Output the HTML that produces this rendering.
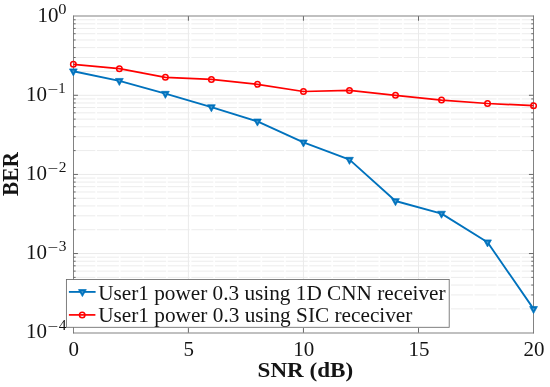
<!DOCTYPE html>
<html><head><meta charset="utf-8"><title>BER vs SNR</title>
<style>
html,body{margin:0;padding:0;background:#fff;}
body{width:550px;height:387px;overflow:hidden;}
svg{display:block;font-family:"Liberation Serif", "DejaVu Serif", serif;}
text{fill:#141414;}
</style></head>
<body>
<svg width="550" height="387" viewBox="0 0 550 387">
<rect x="0" y="0" width="550" height="387" fill="#ffffff"/>
<path d="M73.35 308.88H533.55M73.35 294.94H533.55M73.35 285.05H533.55M73.35 277.39H533.55M73.35 271.12H533.55M73.35 265.82H533.55M73.35 261.23H533.55M73.35 257.18H533.55M73.35 229.74H533.55M73.35 215.80H533.55M73.35 205.92H533.55M73.35 198.25H533.55M73.35 191.98H533.55M73.35 186.68H533.55M73.35 182.09H533.55M73.35 178.05H533.55M73.35 150.60H533.55M73.35 136.67H533.55M73.35 126.78H533.55M73.35 119.11H533.55M73.35 112.84H533.55M73.35 107.55H533.55M73.35 102.96H533.55M73.35 98.91H533.55M73.35 71.46H533.55M73.35 57.53H533.55M73.35 47.64H533.55M73.35 39.97H533.55M73.35 33.71H533.55M73.35 28.41H533.55M73.35 23.82H533.55M73.35 19.77H533.55" stroke="#ececec" stroke-width="1" fill="none" stroke-dasharray="22 1.6"/>
<path d="M73.35 253.56H533.55M73.35 174.43H533.55M73.35 95.29H533.55M188.40 16.15V332.70M303.45 16.15V332.70M418.50 16.15V332.70" stroke="#eaeaea" stroke-width="1" fill="none"/>
<path d="M188.40 332.70v-4.6M188.40 16.15v4.6M303.45 332.70v-4.6M303.45 16.15v4.6M418.50 332.70v-4.6M418.50 16.15v4.6M73.35 253.56h4.6M533.55 253.56h-4.6M73.35 174.43h4.6M533.55 174.43h-4.6M73.35 95.29h4.6M533.55 95.29h-4.6M73.35 308.88h2.3M533.55 308.88h-2.3M73.35 294.94h2.3M533.55 294.94h-2.3M73.35 285.05h2.3M533.55 285.05h-2.3M73.35 277.39h2.3M533.55 277.39h-2.3M73.35 271.12h2.3M533.55 271.12h-2.3M73.35 265.82h2.3M533.55 265.82h-2.3M73.35 261.23h2.3M533.55 261.23h-2.3M73.35 257.18h2.3M533.55 257.18h-2.3M73.35 229.74h2.3M533.55 229.74h-2.3M73.35 215.80h2.3M533.55 215.80h-2.3M73.35 205.92h2.3M533.55 205.92h-2.3M73.35 198.25h2.3M533.55 198.25h-2.3M73.35 191.98h2.3M533.55 191.98h-2.3M73.35 186.68h2.3M533.55 186.68h-2.3M73.35 182.09h2.3M533.55 182.09h-2.3M73.35 178.05h2.3M533.55 178.05h-2.3M73.35 150.60h2.3M533.55 150.60h-2.3M73.35 136.67h2.3M533.55 136.67h-2.3M73.35 126.78h2.3M533.55 126.78h-2.3M73.35 119.11h2.3M533.55 119.11h-2.3M73.35 112.84h2.3M533.55 112.84h-2.3M73.35 107.55h2.3M533.55 107.55h-2.3M73.35 102.96h2.3M533.55 102.96h-2.3M73.35 98.91h2.3M533.55 98.91h-2.3M73.35 71.46h2.3M533.55 71.46h-2.3M73.35 57.53h2.3M533.55 57.53h-2.3M73.35 47.64h2.3M533.55 47.64h-2.3M73.35 39.97h2.3M533.55 39.97h-2.3M73.35 33.71h2.3M533.55 33.71h-2.3M73.35 28.41h2.3M533.55 28.41h-2.3M73.35 23.82h2.3M533.55 23.82h-2.3M73.35 19.77h2.3M533.55 19.77h-2.3" stroke="#505050" stroke-width="0.85" fill="none"/>
<path d="M73.5 15.6V333.4M533.5 15.6V333.4" stroke="#6c6c6c" stroke-width="0.85" fill="none"/>
<path d="M73.1 16H533.9M73.1 333H533.9" stroke="#6c6c6c" stroke-width="0.85" fill="none"/>
<polyline points="73.35,64.35 119.37,68.70 165.39,77.35 211.41,79.43 257.43,84.30 303.45,91.50 349.47,90.40 395.49,95.35 441.51,100.06 487.53,103.50 533.55,105.64" stroke="#FF0000" stroke-width="1.7" fill="none" stroke-linejoin="round"/>
<polyline points="73.35,71.25 119.37,80.80 165.39,93.70 211.41,107.10 257.43,121.40 303.45,142.34 349.47,159.68 395.49,201.00 441.51,213.60 487.53,242.27 533.55,308.90" stroke="#0072BD" stroke-width="1.85" fill="none" stroke-linejoin="round"/>
<circle cx="73.35" cy="64.35" r="2.75" fill="none" stroke="#FF0000" stroke-width="1.5"/>
<circle cx="119.37" cy="68.70" r="2.75" fill="none" stroke="#FF0000" stroke-width="1.5"/>
<circle cx="165.39" cy="77.35" r="2.75" fill="none" stroke="#FF0000" stroke-width="1.5"/>
<circle cx="211.41" cy="79.43" r="2.75" fill="none" stroke="#FF0000" stroke-width="1.5"/>
<circle cx="257.43" cy="84.30" r="2.75" fill="none" stroke="#FF0000" stroke-width="1.5"/>
<circle cx="303.45" cy="91.50" r="2.75" fill="none" stroke="#FF0000" stroke-width="1.5"/>
<circle cx="349.47" cy="90.40" r="2.75" fill="none" stroke="#FF0000" stroke-width="1.5"/>
<circle cx="395.49" cy="95.35" r="2.75" fill="none" stroke="#FF0000" stroke-width="1.5"/>
<circle cx="441.51" cy="100.06" r="2.75" fill="none" stroke="#FF0000" stroke-width="1.5"/>
<circle cx="487.53" cy="103.50" r="2.75" fill="none" stroke="#FF0000" stroke-width="1.5"/>
<circle cx="533.55" cy="105.64" r="2.75" fill="none" stroke="#FF0000" stroke-width="1.5"/>
<path d="M69.45 68.90H77.25L73.35 75.95Z" fill="#0072BD" stroke="#0072BD" stroke-width="0.7"/><path d="M72.10 70.50H74.60L73.35 72.75Z" fill="#ffffff" fill-opacity="0.3"/>
<path d="M115.47 78.45H123.27L119.37 85.50Z" fill="#0072BD" stroke="#0072BD" stroke-width="0.7"/><path d="M118.12 80.05H120.62L119.37 82.30Z" fill="#ffffff" fill-opacity="0.3"/>
<path d="M161.49 91.35H169.29L165.39 98.40Z" fill="#0072BD" stroke="#0072BD" stroke-width="0.7"/><path d="M164.14 92.95H166.64L165.39 95.20Z" fill="#ffffff" fill-opacity="0.3"/>
<path d="M207.51 104.75H215.31L211.41 111.80Z" fill="#0072BD" stroke="#0072BD" stroke-width="0.7"/><path d="M210.16 106.35H212.66L211.41 108.60Z" fill="#ffffff" fill-opacity="0.3"/>
<path d="M253.53 119.05H261.33L257.43 126.10Z" fill="#0072BD" stroke="#0072BD" stroke-width="0.7"/><path d="M256.18 120.65H258.68L257.43 122.90Z" fill="#ffffff" fill-opacity="0.3"/>
<path d="M299.55 139.99H307.35L303.45 147.04Z" fill="#0072BD" stroke="#0072BD" stroke-width="0.7"/><path d="M302.20 141.59H304.70L303.45 143.84Z" fill="#ffffff" fill-opacity="0.3"/>
<path d="M345.57 157.33H353.37L349.47 164.38Z" fill="#0072BD" stroke="#0072BD" stroke-width="0.7"/><path d="M348.22 158.93H350.72L349.47 161.18Z" fill="#ffffff" fill-opacity="0.3"/>
<path d="M391.59 198.65H399.39L395.49 205.70Z" fill="#0072BD" stroke="#0072BD" stroke-width="0.7"/><path d="M394.24 200.25H396.74L395.49 202.50Z" fill="#ffffff" fill-opacity="0.3"/>
<path d="M437.61 211.25H445.41L441.51 218.30Z" fill="#0072BD" stroke="#0072BD" stroke-width="0.7"/><path d="M440.26 212.85H442.76L441.51 215.10Z" fill="#ffffff" fill-opacity="0.3"/>
<path d="M483.63 239.92H491.43L487.53 246.97Z" fill="#0072BD" stroke="#0072BD" stroke-width="0.7"/><path d="M486.28 241.52H488.78L487.53 243.77Z" fill="#ffffff" fill-opacity="0.3"/>
<path d="M529.65 306.55H537.45L533.55 313.60Z" fill="#0072BD" stroke="#0072BD" stroke-width="0.7"/><path d="M532.30 308.15H534.80L533.55 310.40Z" fill="#ffffff" fill-opacity="0.3"/>
<text transform="translate(58.60 21.75) scale(1.0 1.03)" font-size="21" text-anchor="end">10</text>
<text transform="translate(58.30 14.25) scale(1.12 1.0)" font-size="14.7">0</text>
<text transform="translate(47.10 100.89) scale(1.0 1.03)" font-size="21" text-anchor="end">10</text>
<text transform="translate(47.30 93.59) scale(1.3 1.0)" font-size="14.7">−</text>
<text x="58.30" y="92.59" font-size="14.7">1</text>
<text transform="translate(47.10 180.03) scale(1.0 1.03)" font-size="21" text-anchor="end">10</text>
<text transform="translate(47.30 172.72) scale(1.3 1.0)" font-size="14.7">−</text>
<text transform="translate(58.70 171.72) scale(1.05 1.0)" font-size="14.7">2</text>
<text transform="translate(47.10 259.16) scale(1.0 1.03)" font-size="21" text-anchor="end">10</text>
<text transform="translate(47.30 251.86) scale(1.3 1.0)" font-size="14.7">−</text>
<text transform="translate(58.70 250.86) scale(1.05 1.0)" font-size="14.7">3</text>
<text transform="translate(47.10 338.30) scale(1.0 1.03)" font-size="21" text-anchor="end">10</text>
<text transform="translate(47.30 331.00) scale(1.3 1.0)" font-size="14.7">−</text>
<text transform="translate(58.70 330.00) scale(1.05 1.0)" font-size="14.7">4</text>
<text transform="translate(73.75 356.30) scale(1.0 1.04)" font-size="21" text-anchor="middle">0</text>
<text transform="translate(188.80 356.30) scale(1.0 1.04)" font-size="21" text-anchor="middle">5</text>
<text transform="translate(303.85 356.30) scale(1.0 1.04)" font-size="21" text-anchor="middle">10</text>
<text transform="translate(418.90 356.30) scale(1.0 1.04)" font-size="21" text-anchor="middle">15</text>
<text transform="translate(533.95 356.30) scale(1.0 1.04)" font-size="21" text-anchor="middle">20</text>
<text x="257.6" y="376.8" font-size="22" font-weight="bold" textLength="95.6" lengthAdjust="spacingAndGlyphs">SNR (dB)</text>
<text transform="translate(17.8 196.0) rotate(-90)" x="0" y="0" font-size="22.3" font-weight="bold" textLength="43.8" lengthAdjust="spacingAndGlyphs">BER</text>
<rect x="66.4" y="279.5" width="382.80" height="47.80" fill="#ffffff" stroke="#6a6a6a" stroke-width="0.85"/>
<path d="M68.9 291.9H95.6" stroke="#0072BD" stroke-width="1.85"/>
<path d="M78.50 289.55H86.30L82.40 296.60Z" fill="#0072BD" stroke="#0072BD" stroke-width="0.7"/><path d="M81.15 291.15H83.65L82.40 293.40Z" fill="#ffffff" fill-opacity="0.3"/>
<path d="M68.9 314.9H95.4" stroke="#FF0000" stroke-width="1.7"/>
<circle cx="82.20" cy="314.90" r="2.75" fill="none" stroke="#FF0000" stroke-width="1.5"/>
<text x="98.2" y="299.7" font-size="21" textLength="347.4" lengthAdjust="spacingAndGlyphs">User1 power 0.3 using 1D CNN receiver</text>
<text x="98.2" y="322.2" font-size="21" textLength="314.2" lengthAdjust="spacingAndGlyphs">User1 power 0.3 using SIC receciver</text>
</svg>
</body></html>
